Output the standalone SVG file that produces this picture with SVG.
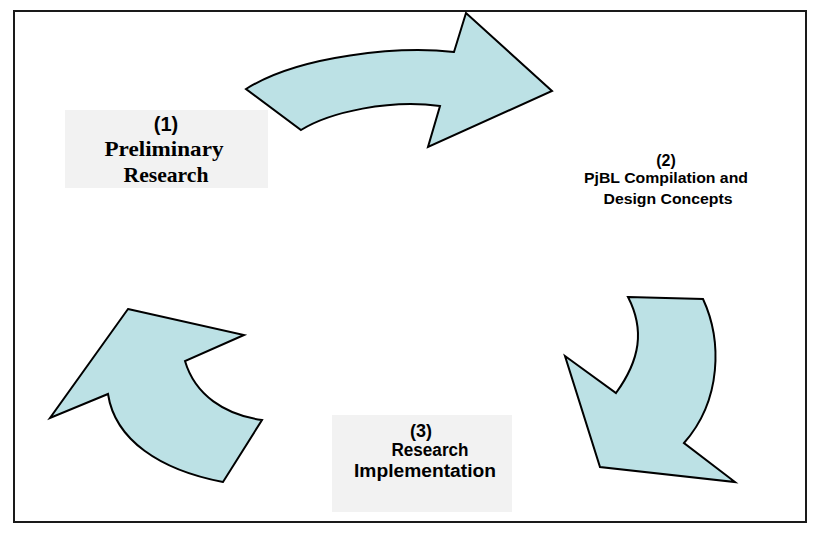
<svg xmlns="http://www.w3.org/2000/svg" width="816" height="535" viewBox="0 0 816 535">
<style>
.arrow{fill:#bce1e5;stroke:#000;stroke-width:2;stroke-linejoin:miter}
.box{fill:#f2f2f2}
.serif{font-family:"Liberation Serif","Times New Roman",serif;font-weight:bold;fill:#000}
.sans{font-family:"Liberation Sans",Arial,sans-serif;font-weight:bold;fill:#000}
</style>
<rect x="0" y="0" width="816" height="535" fill="#fff"/>
<rect x="14" y="11" width="792" height="511" fill="#fff" stroke="#1a1a1a" stroke-width="2"/>
<g id="connectors">
<path id="arrow-1-2" class="arrow" d="M246,89 C300,55 400,46 454,52 L466,13 L552,91 L428,147 L440,106 C390,99 330,112 301,130 Z"/>
<path id="arrow-2-3" class="arrow" d="M628,297 L703,299 C722,340 722,400 684,443 L735,482 L600,467 L565,356 L616,393 C640,360 645,330 628,297 Z"/>
<path id="arrow-3-1" class="arrow" d="M128,309 L244,335 L185,361 C195,395 225,415 262,420 L223,482 C160,470 115,440 108,394 L50,418 Z"/>
</g>
<g id="node1">
<rect class="box" x="65" y="110" width="203" height="78"/>
<text class="sans" x="166" y="131" font-size="20" text-anchor="middle">(1)</text>
<text class="serif" x="164" y="156" font-size="21" text-anchor="middle" textLength="119" lengthAdjust="spacingAndGlyphs">Preliminary</text>
<text class="serif" x="166" y="182" font-size="21" text-anchor="middle" textLength="85" lengthAdjust="spacingAndGlyphs">Research</text>
</g>
<g id="node2">
<text class="sans" x="666" y="166" font-size="16" text-anchor="middle">(2)</text>
<text class="sans" x="666" y="183" font-size="14" text-anchor="middle" textLength="164" lengthAdjust="spacingAndGlyphs">PjBL Compilation and</text>
<text class="sans" x="668" y="204" font-size="14" text-anchor="middle" textLength="129" lengthAdjust="spacingAndGlyphs">Design Concepts</text>
</g>
<g id="node3">
<rect class="box" x="332" y="415" width="180" height="97"/>
<text class="sans" x="421" y="437" font-size="18" text-anchor="middle">(3)</text>
<text class="sans" x="430" y="456" font-size="18" text-anchor="middle" textLength="77" lengthAdjust="spacingAndGlyphs">Research</text>
<text class="sans" x="425" y="477" font-size="18" text-anchor="middle" textLength="142" lengthAdjust="spacingAndGlyphs">Implementation</text>
</g>
</svg>
